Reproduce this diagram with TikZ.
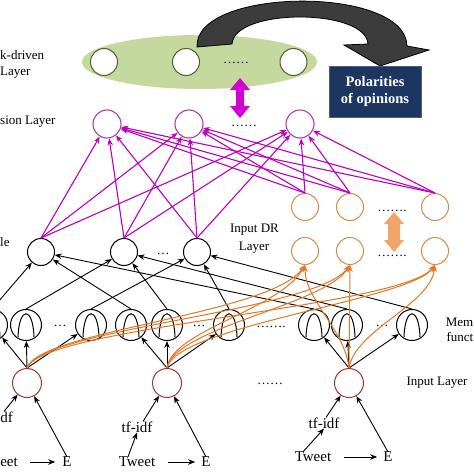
\documentclass[tikz,border=0pt]{standalone}
\usepackage{fontspec}
\setmainfont{Liberation Serif}
\usetikzlibrary{arrows.meta}
\definecolor{grnfill}{RGB}{197,217,158}
\definecolor{grnline}{RGB}{80,95,50}
\definecolor{navy}{RGB}{28,54,96}
\definecolor{magline}{RGB}{190,0,190}
\definecolor{magcirc}{RGB}{175,60,175}
\definecolor{magarrow}{RGB}{210,0,210}
\definecolor{orline}{RGB}{225,120,40}
\definecolor{orcirc}{RGB}{215,140,70}
\definecolor{orarrow}{RGB}{242,165,105}
\definecolor{inred}{RGB}{170,50,50}
\definecolor{bigarrow}{RGB}{60,60,60}
\begin{document}
\begin{tikzpicture}[x=1pt,y=-1pt,
 lbl/.style={font=\fontsize{13}{15}\selectfont, inner sep=0pt},
 blbl/.style={font=\fontsize{15}{17}\selectfont, inner sep=0pt},
 dotsl/.style={font=\fontsize{13}{15}\selectfont, inner sep=0pt},
 grnc/.style={circle, draw=grnline, fill=white, line width=1pt, minimum size=27pt, inner sep=0pt},
 fusc/.style={circle, draw=magcirc, line width=1.1pt, minimum size=28pt, inner sep=0pt},
 rulec/.style={circle, draw=black, line width=1pt, minimum size=27pt, inner sep=0pt},
 mfc/.style={circle, draw=black, line width=1pt, minimum size=31pt, inner sep=0pt},
 inc/.style={circle, draw=inred, line width=1pt, minimum size=29pt, inner sep=0pt},
 drc/.style={circle, draw=orcirc, line width=1pt, minimum size=27pt, inner sep=0pt},
 blk/.style={draw=black, line width=0.9pt, -{Stealth[length=7pt,width=5.5pt]}},
 mag/.style={draw=magline, line width=1.1pt, -{Stealth[length=7pt,width=5.5pt]}},
 orl/.style={draw=orline, line width=1pt, -{Stealth[length=7pt,width=5.5pt]}},
 polbox/.style={fill=navy, draw=navy!80!white, text=white, font=\bfseries\fontsize{14.5}{17}\selectfont, align=center, minimum width=92pt, minimum height=51pt, inner sep=0pt},
]
\useasboundingbox (0,0) rectangle (474,474);
\fill[white] (0,0) rectangle (474,474);

% green ellipse layer
\fill[grnfill] (199.5,62) ellipse [x radius=117.5, y radius=27];
\node[grnc] (g1) at (104,62) {};
\node[grnc] (g2) at (186,62) {};
\node[grnc] (g3) at (293.5,62) {};
\node[dotsl] (gd) at (236,63) {……};

% big curved arrow
\filldraw[fill=bigarrow, draw=black, line width=0.8pt]
 (197,47) .. controls (194,-13) and (406,-15) .. (407,46)
 -- (429,50) -- (380,66) -- (344,45) -- (368,44)
 .. controls (366,8) and (234,8) .. (232,44) -- cycle;

% polarities box
\node[polbox] (pol) at (375,91.5) {Polarities\\of opinions};

% purple double arrow
\fill[magarrow] (240,78) -- (250,90) -- (244,90) -- (244,106) -- (250,106) -- (240,118)
 -- (230,106) -- (236,106) -- (236,90) -- (230,90) -- cycle;

% orange double arrow
\fill[orarrow] (394,212) -- (404,224) -- (400,224) -- (400,240) -- (404,240) -- (394,252)
 -- (384,240) -- (388,240) -- (388,224) -- (384,224) -- cycle;

% fusion layer
\node[fusc] (f1) at (107,124) {};
\node[fusc] (f2) at (189,124) {};
\node[fusc] (f3) at (300,124) {};
\node[dotsl] (fd) at (244,126) {……};

% DR layers
\node[drc] (d1) at (305,207) {};
\node[drc] (d2) at (350,207) {};
\node[drc] (d3) at (435,207) {};
\node[dotsl] (dd) at (392,211) {…….};
\node[drc] (e1) at (305,251) {};
\node[drc] (e2) at (350,251) {};
\node[drc] (e3) at (435,251) {};
\node[dotsl] (ed) at (392,256) {…….};

% rule layer
\node[rulec] (r1) at (41,252) {};
\node[rulec] (r2) at (124,252) {};
\node[rulec] (r3) at (197,252) {};
\node[dotsl] (rd) at (163,254) {…};

% membership layer
\foreach \n/\x in {m0/-8,m1/26,m2/91,m3/131,m4/167,m5/229,m6/314,m7/347,m8/412}{
  \node[mfc] (\n) at (\x,325) {};
  \draw[line width=1pt] ([shift={(-8,12)}]\n.center) .. controls ([shift={(-7,-19)}]\n.center) and ([shift={(7,-19)}]\n.center) .. ([shift={(8,12)}]\n.center);
}
\node[dotsl] (md1) at (60,326) {…};
\node[dotsl] (md2) at (199,326) {…};
\node[dotsl] (md3) at (271,327) {…….};
\node[dotsl] (md4) at (382,326) {…};

% input layer
\node[inc] (i1) at (27,383) {};
\node[inc] (i2) at (167,383) {};
\node[inc] (i3) at (349,383) {};
\node[dotsl] (id) at (270,384) {……};

% labels
\node[lbl, anchor=west] (tk) at (0,55) {k-driven};
\node[lbl, anchor=west] (tl) at (0,73) {Layer};
\node[lbl, anchor=west] (ts) at (0,122) {sion Layer};
\node[lbl, anchor=west] (tle) at (0,242) {le};
\node[lbl] (tdr1) at (254.5,230) {Input DR};
\node[lbl] (tdr2) at (254,248) {Layer};
\node[lbl] (til) at (437,383) {Input Layer};
\node[lbl, anchor=east] (tm1) at (473.5,322) {Mem};
\node[lbl, anchor=east] (tm2) at (473.5,337) {funct};

% bottom labels
\node[blbl, anchor=east] (t1) at (13,417) {df};
\node[blbl, anchor=east] (w1) at (18,462) {eet};
\node[blbl] (E1) at (67,462) {E};
\node[blbl] (t2) at (137,427) {tf-idf};
\node[blbl] (w2) at (137,462) {Tweet};
\node[blbl] (E2) at (206,462) {E};
\node[blbl] (t3) at (324,423) {tf-idf};
\node[blbl] (w3) at (313,457) {Tweet};
\node[blbl] (E3) at (388,457) {E};

% bottom arrows
\draw[blk] ([xshift=-9pt]t1.north east) -- (i1);
\draw[blk] (E1.north) -- (i1);
\draw[blk, shorten <=12pt, shorten >=7pt] (w1.east) -- (E1.west);
\draw[blk] ([xshift=6pt]t2.north) -- (i2);
\draw[blk] (E2.north) -- (i2);
\draw[blk] ([xshift=-9pt]w2.north) -- (t2.south);
\draw[blk, shorten <=13pt, shorten >=6pt] (w2.east) -- (E2.west);
\draw[blk] ([xshift=2pt]t3.north) -- (i3);
\draw[blk] (E3.north) -- (i3);
\draw[blk] ([xshift=-10pt]w3.north) -- (t3.south);
\draw[blk, shorten <=13pt, shorten >=6pt] (w3.east) -- (E3.west);

% input -> membership
\foreach \a/\b in {i1/m0,i1/m1,i1/m2,i2/m3,i2/m4,i2/m5,i3/m6,i3/m7,i3/m8}
  \draw[blk] (\a.north) -- (\b);

% membership -> rule
\foreach \a/\b in {m0/r1,m3/r1,m6/r1,m1/r2,m4/r2,m7/r2,m2/r3,m5/r3,m8/r3}
  \draw[blk] (\a.north) -- (\b);

% orange curves input -> DR
\draw[orl] (i1.north) .. controls (40,330) and (270,315) .. (e1.south);
\draw[orl] (i1.north) .. controls (42,328) and (315,312) .. (e2.south);
\draw[orl] (i1.north) .. controls (44,326) and (400,308) .. (e3.south);
\draw[orl] (i2.north) .. controls (172,330) and (280,310) .. (e1.south);
\draw[orl] (i2.north) .. controls (174,328) and (325,305) .. (e2.south);
\draw[orl] (i2.north) .. controls (176,326) and (410,300) .. (e3.south);
\draw[orl] (i3.north) .. controls (345,330) and (305,300) .. (e1.south);
\draw[orl] (i3.north) -- (e2.south);
\draw[orl] (i3.north) .. controls (355,330) and (430,305) .. (e3.south);

% purple lines to fusion
\foreach \a in {r1,r2,r3,d1,d2,d3}
  \foreach \b in {f1,f2,f3}
    \draw[mag] (\a.north) -- (\b);

\end{tikzpicture}
\end{document}
